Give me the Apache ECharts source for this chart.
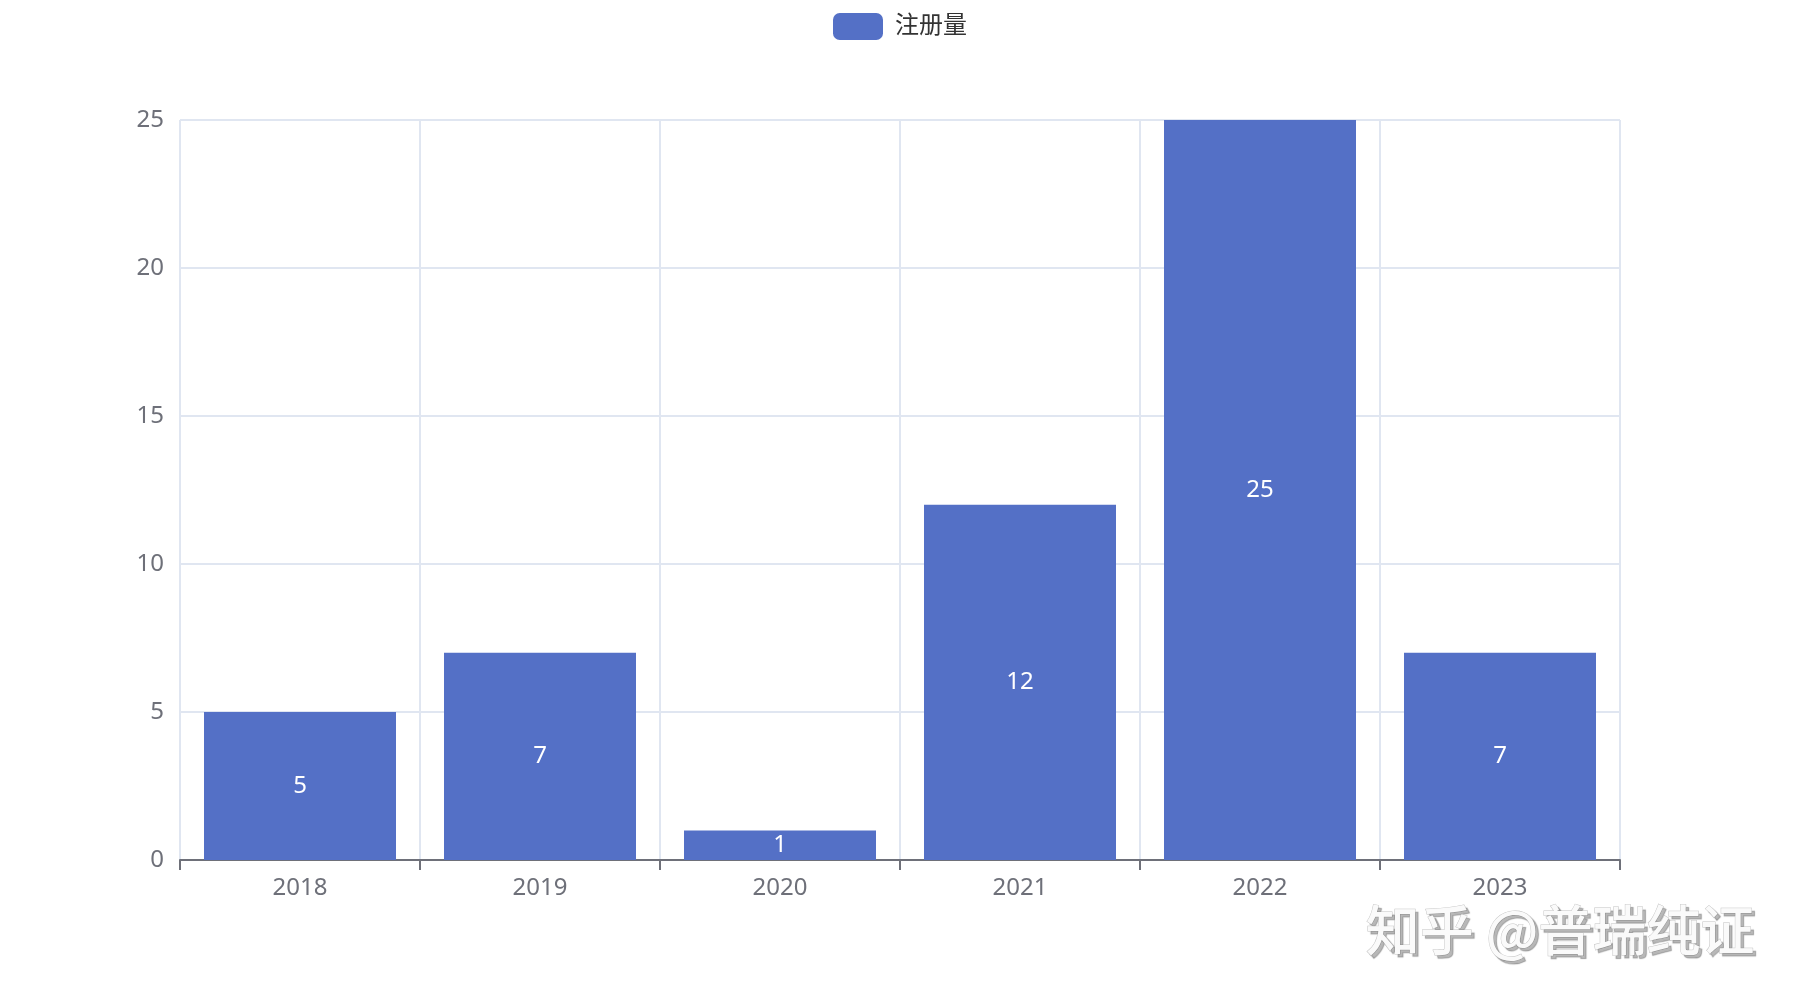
<!DOCTYPE html>
<html>
<head>
<meta charset="utf-8">
<script src="https://cdn.jsdelivr.net/npm/echarts@6/dist/echarts.min.js"></script>
<style>html,body{margin:0;padding:0;background:#fff;}#c{width:1800px;height:1000px;}</style>
</head>
<body>
<div id="c"></div>
<script>
var categories = ['2018', '2019', '2020', '2021', '2022', '2023'];
var seriesName = '注册量';
var values = [5, 7, 1, 12, 25, 7];
var watermark = '知乎 @普瑞纯证';

var FONT = '"Noto Sans", "Noto Sans CJK SC", sans-serif';
var chart = echarts.init(document.getElementById('c'));
chart.setOption({
  backgroundColor: '#fff',
  textStyle: { fontFamily: FONT },
  legend: {
    top: 8,
    left: 'center',
    itemWidth: 50,
    itemHeight: 27,
    itemGap: 20,
    textStyle: { fontSize: 24, color: '#333', fontFamily: FONT, padding: [0, 0, 0, 7] },
    data: [seriesName]
  },
  grid: { left: 180, right: 180, top: 120, bottom: 140 },
  xAxis: {
    type: 'category',
    data: categories,
    axisLine: { lineStyle: { color: '#6E7079', width: 2 } },
    axisTick: { show: true, length: 10, lineStyle: { color: '#6E7079', width: 2 } },
    axisLabel: { fontSize: 24, color: '#6E7079', margin: 16, fontFamily: FONT },
    splitLine: { show: true, lineStyle: { color: '#E0E6F1', width: 2 } }
  },
  yAxis: {
    type: 'value',
    min: 0,
    max: 25,
    interval: 5,
    axisLabel: { fontSize: 24, color: '#6E7079', margin: 16, fontFamily: FONT },
    splitLine: { show: true, lineStyle: { color: '#E0E6F1', width: 2 } }
  },
  series: [{
    name: seriesName,
    type: 'bar',
    data: values,
    barCategoryGap: '20%',
    itemStyle: { color: '#5470c6' },
    label: { show: true, position: 'inside', color: '#fff', fontSize: 24, fontFamily: FONT }
  }],
  graphic: [{
    type: 'text',
    right: 45,
    bottom: 42,
    z: 100,
    style: {
      text: watermark,
      font: '500 54px "Noto Sans CJK SC", sans-serif',
      fill: '#fafafa',
      stroke: '#c4c4c4',
      lineWidth: 1,
      textShadowColor: 'rgba(0,0,0,0.28)',
      textShadowOffsetX: 3,
      textShadowOffsetY: 3,
      textShadowBlur: 1
    }
  }]
});
</script>
</body>
</html>
